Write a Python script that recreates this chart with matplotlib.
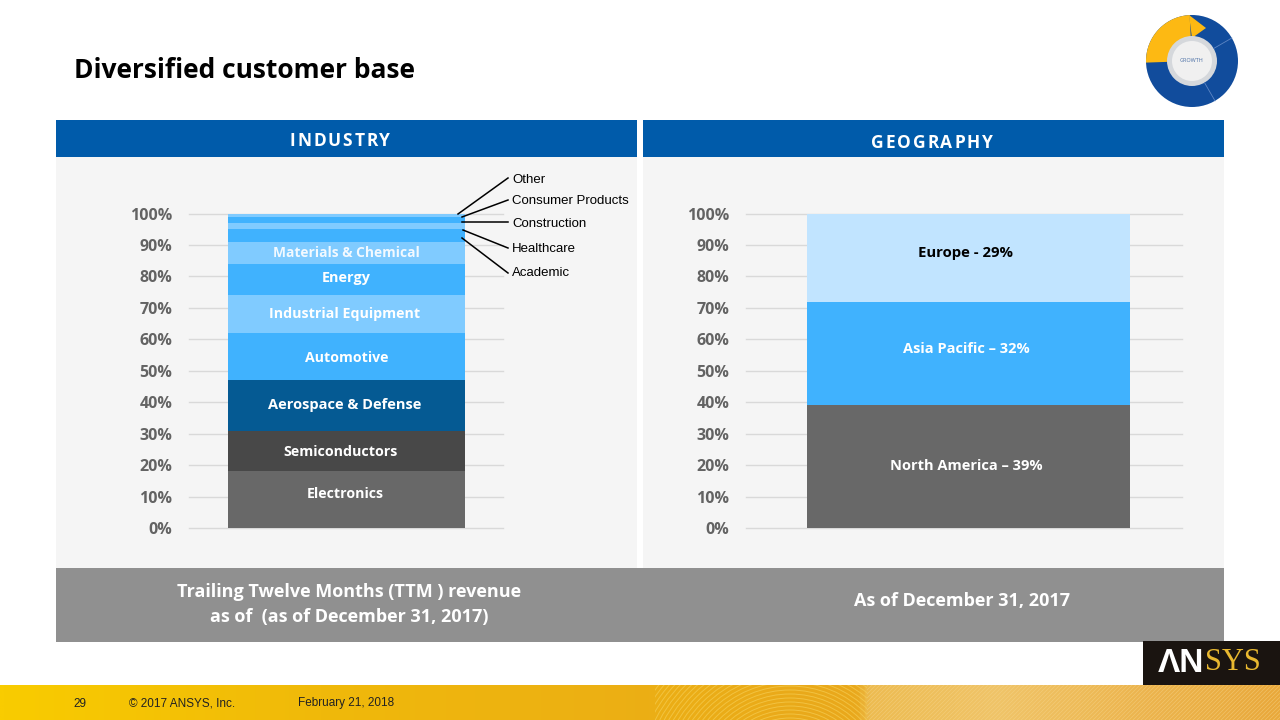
import matplotlib
matplotlib.use('Agg')
import matplotlib.pyplot as plt
import numpy as np
from matplotlib.patches import Rectangle, Wedge, Circle, Polygon

# industry stack, bottom to top
industry_names = ['Electronics', 'Semiconductors', 'Aerospace & Defense', 'Automotive',
                  'Industrial Equipment', 'Energy', 'Materials & Chemical',
                  'Academic', 'Healthcare', 'Construction', 'Consumer Products', 'Other']
industry_vals = [18, 13, 16, 15, 12, 10, 7, 2, 2, 2, 2, 1]
industry_cols = ['#686868', '#484848', '#055A93', '#40B2FE', '#80CBFF', '#40B2FE', '#80CBFF',
                 '#40B2FE', '#40B2FE', '#80CBFF', '#40B2FE', '#80CBFF']

geo_names = ['North America – 39%', 'Asia Pacific – 32%', 'Europe - 29%']
geo_vals = [39, 33, 28]
geo_cols = ['#686868', '#40B2FE', '#C1E4FF']
geo_txt = ['white', 'white', 'black']

ticks = list(range(0, 101, 10))
tick_labels = [str(t) + '%' for t in ticks]

W, H = 1280, 720
plt.rcParams['font.family'] = ['Open Sans', 'DejaVu Sans']

fig = plt.figure(figsize=(W / 100, H / 100), dpi=100, facecolor='white')


def px_axes(x0, y0, x1, y1, z):
    return fig.add_axes([x0 / W, 1 - y1 / H, (x1 - x0) / W, (y1 - y0) / H], zorder=z)


def spaced_text(ax, cx, y, s, gap, **kw):
    # letter spaced header text, one Text per glyph
    rend = fig.canvas.get_renderer()
    widths = []
    for ch in s:
        t = ax.text(0, 0, ch, **kw)
        widths.append(t.get_window_extent(rend).width)
        t.remove()
    x = cx - (sum(widths) + gap * (len(s) - 1)) / 2
    for ch, w in zip(s, widths):
        ax.text(x, y, ch, ha='left', va='center', **kw)
        x += w + gap


bg = px_axes(0, 0, W, H, 0)
bg.set_xlim(0, W)
bg.set_ylim(H, 0)
bg.axis('off')

# panels and header bars
for x0, x1 in [(56, 637), (643, 1224)]:
    bg.add_patch(Rectangle((x0, 157), x1 - x0, 411, color='#F5F5F5', lw=0))
    bg.add_patch(Rectangle((x0, 120), x1 - x0, 37, color='#005BAA', lw=0))
bg.add_patch(Rectangle((56, 568), 1168, 74, color='#909090', lw=0))

# footer band
cmap = matplotlib.colors.LinearSegmentedColormap.from_list(
    'foot', [(0, '#F9CC00'), (0.25, '#F0B90A'), (0.67, '#E9A81C'), (0.68, '#EDBB50'),
             (0.78, '#F0C468'), (0.88, '#EDB650'), (1, '#E9A83A')])
grad = np.linspace(0, 1, 512).reshape(1, -1)
foot = bg.imshow(grad, cmap=cmap, extent=(0, W, 720, 685), aspect='auto', zorder=1)
clip = Rectangle((655, 685), 212, 35, transform=bg.transData)
for r in np.arange(60, 300, 4.0):
    arc = Circle((790, 790), r, fill=False, ec='#F7D25A', lw=0.7, alpha=0.6, zorder=1.5)
    bg.add_patch(arc)
    arc.set_clip_path(clip)
clip2 = Rectangle((867, 685), 413, 35, transform=bg.transData)
for x in np.arange(840, 1320, 4.0):
    ln, = bg.plot([x, x - 35], [685, 720], color='#F6D890', lw=0.6, alpha=0.45, zorder=1.5)
    ln.set_clip_path(clip2)
bg.set_xlim(0, W)
bg.set_ylim(H, 0)

# ansys logo box
bg.add_patch(Rectangle((1143, 641), 137, 44, color='#1A1410', lw=0, zorder=2))


def stack(ax_box, bar_x0, bar_x1, names, vals, cols, txt, offs, dys, sizes):
    ax = px_axes(ax_box[0], 213.5, ax_box[1], 528, 1)
    ax.patch.set_alpha(0)
    c = (bar_x0 + bar_x1) / 2
    w = bar_x1 - bar_x0
    ax.set_xlim((ax_box[0] - c) / w, (ax_box[1] - c) / w)
    ax.set_ylim(0, 100)
    ax.set_xticks([])
    ax.set_yticks(ticks)
    ax.set_yticklabels(tick_labels, fontsize=11.5, fontweight='bold', color='#636363')
    ax.tick_params(axis='y', length=0, pad=12)
    ax.grid(axis='y', color='#D9D9D9', lw=1)
    ax.set_axisbelow(True)
    for s in ax.spines.values():
        s.set_visible(False)
    for g in ax.yaxis.get_gridlines():
        g.set_clip_on(False)
    bottom = 0
    for i, v in enumerate(vals):
        ax.bar(0, v, width=1, bottom=bottom, color=cols[i], lw=0)
        if txt[i]:
            ax.text(offs[i], bottom + v / 2 + dys[i], names[i], ha='center', va='center',
                    fontsize=sizes[i], fontweight='bold', color=txt[i])
        bottom += v
    return ax


ind_txt = ['white'] * 6 + ['#F2F9FF'] + [None] * 5
stack((189, 503), 228, 465, industry_names, industry_vals, industry_cols, ind_txt,
      [-0.007, -0.025, -0.008, 0, -0.008, 0, 0] + [0] * 5,
      [1.8, -0.2, 0, -0.5, 0, 0.5, 0] + [0] * 5,
      [10.2, 10.3, 10.5, 10.2, 10.3, 10.4, 9.9] + [10] * 5)
stack((746, 1182), 807, 1130, geo_names, geo_vals, geo_cols, geo_txt,
      [-0.008, -0.008, -0.008], [0.2, 1.5, 1.5], [10.5, 10.5, 10.7])

top = px_axes(0, 0, W, H, 2)
top.set_xlim(0, W)
top.set_ylim(H, 0)
top.axis('off')
top.patch.set_alpha(0)

top.text(74, 70.5, 'Diversified customer base', fontsize=19, fontweight='bold',
         color='black', va='center')
spaced_text(top, 340, 141, 'INDUSTRY', 1.8, fontsize=12.5, fontweight='bold', color='white')
spaced_text(top, 932, 143, 'GEOGRAPHY', 1.8, fontsize=12.5, fontweight='bold', color='white')
top.text(349, 592, 'Trailing Twelve Months (TTM ) revenue', fontsize=13, fontweight='bold',
         color='white', ha='center', va='center')
top.text(349, 617, 'as of  (as of December 31, 2017)', fontsize=13, fontweight='bold',
         color='white', ha='center', va='center')
top.text(962, 601, 'As of December 31, 2017', fontsize=13, fontweight='bold',
         color='white', ha='center', va='center')

# leader lines for the thin bands
leader_names = ['Other', 'Consumer Products', 'Construction', 'Healthcare', 'Academic']
leader_from = [(458, 214), (462, 217), (462, 222), (463, 230), (462, 238)]
leader_to = [(508, 178), (508, 200), (508, 222), (508, 248), (508, 273)]
leader_text_y = [180, 201, 224, 249, 272.5]
for nm, a, b, ty in zip(leader_names, leader_from, leader_to, leader_text_y):
    top.plot([a[0], b[0]], [a[1], b[1]], color='black', lw=1.1)
    top.text(512, ty, nm, fontsize=9.5, family='Liberation Sans', color='black', va='center')

# footer text
top.text(80, 704, '29', fontsize=8.5, family='Liberation Sans', color='#222222', ha='center', va='center')
top.text(129, 703, '© 2017 ANSYS, Inc.', fontsize=8.5, family='Liberation Sans', color='#222222', va='center')
top.text(298, 703, 'February 21, 2018', fontsize=8.5, family='Liberation Sans', color='#222222', va='center')

# logo wordmark
top.text(1158, 663, 'ΛN', fontsize=24, family='Liberation Sans', fontweight='bold', color='white', va='center')
top.text(1205, 663, 'SYS', fontsize=22, family='Liberation Serif', color='#E8B830', va='center')

# growth wheel, top right
cx, cy = 1192, 61
top.add_patch(Circle((cx, cy), 46, color='#114C9C', lw=0))
# yellow chevron with the point towards the top right
top.add_patch(Wedge((cx, cy), 46, -182, -93, width=24, color='#FDB913', lw=0))
top.add_patch(Polygon([(1189, 15), (1206, 28), (1192, 38)], color='#FDB913', lw=0))
for ang in [-30, 60]:
    a = np.deg2rad(ang)
    top.plot([cx + 25 * np.cos(a), cx + 46 * np.cos(a)], [cy + 25 * np.sin(a), cy + 46 * np.sin(a)],
             color='#5E86C4', lw=0.6)
top.add_patch(Circle((cx, cy), 25, color='#D5D8DC', lw=0))
top.add_patch(Circle((cx, cy), 20, color='#F0F0F0', lw=0))
top.text(cx, cy, 'GROWTH', fontsize=4, color='#4A6FA5', ha='center', va='center')

fig.savefig('out.png', dpi=100)
